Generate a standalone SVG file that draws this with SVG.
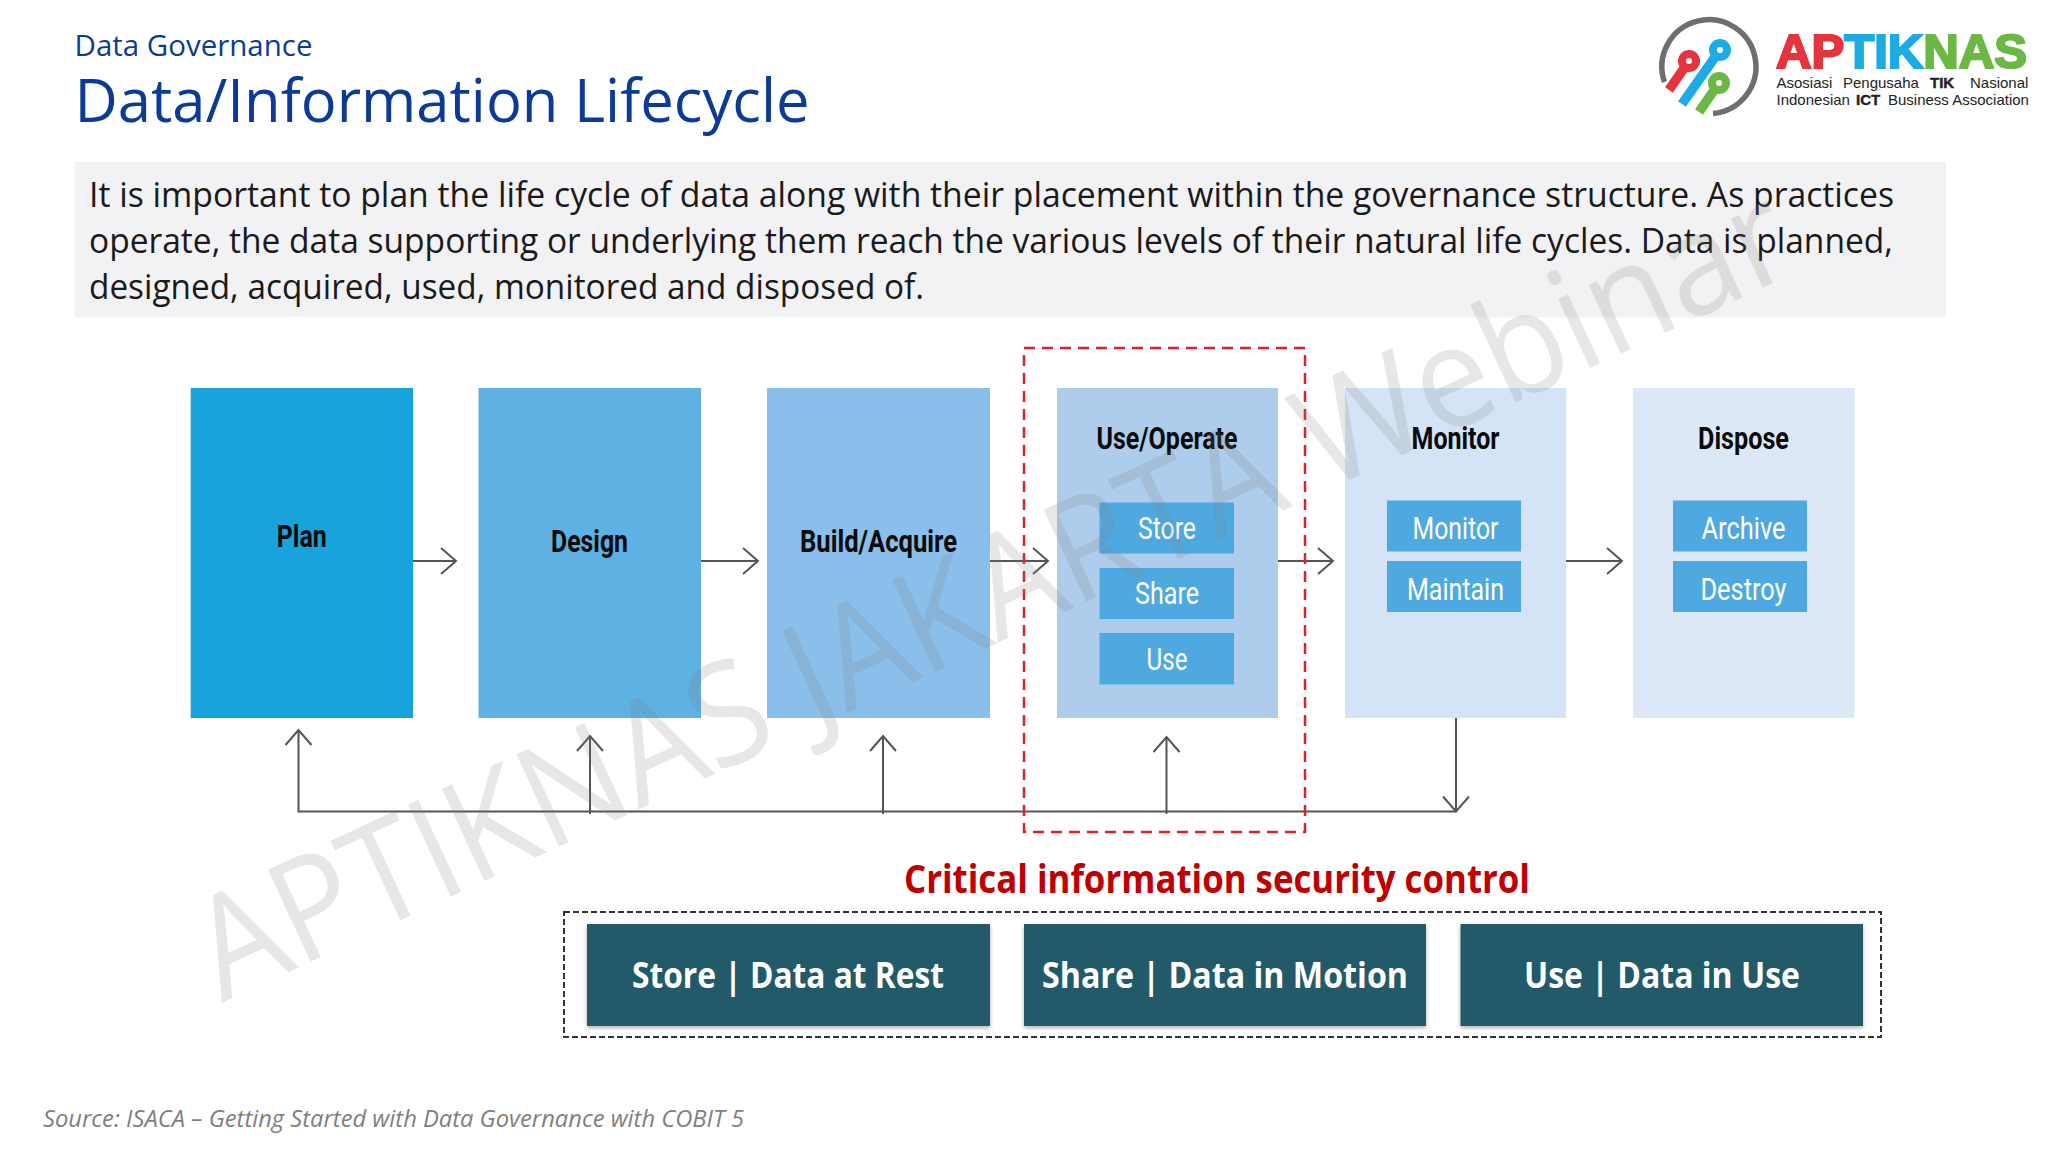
<svg xmlns="http://www.w3.org/2000/svg" width="2048" height="1152" viewBox="0 0 2048 1152">
<style>
.body{font-family:"Open Sans","Noto Sans",sans-serif;font-size:35px;fill:#1a1a1a}
.hd{font-family:Roboto,"Liberation Sans",sans-serif;font-size:31px;font-weight:700;fill:#0a0a0a;text-anchor:middle}
.sub{font-family:Roboto,"Liberation Sans",sans-serif;font-size:32px;fill:#fff;text-anchor:middle}
.sb{fill:#4fa9e1}
.teal{fill:#225a6b;filter:url(#sh)}
.tt{font-family:"Open Sans","Noto Sans",sans-serif;font-size:36px;font-weight:700;fill:#fff;text-anchor:middle}
.c{fill:none;stroke:#555;stroke-width:2}
.lg{font-family:"Liberation Sans",Arial,sans-serif;font-size:15px;fill:#222}
.lgb{font-family:"Liberation Sans",Arial,sans-serif;font-weight:700}
.pin{fill:none;stroke-width:9.5}
</style>
<defs>
<filter id="sh" x="-5%" y="-5%" width="110%" height="115%"><feDropShadow dx="0" dy="2" stdDeviation="2" flood-color="#000" flood-opacity="0.3"/></filter>
<marker id="ah" viewBox="0 0 20 30" refX="17" refY="15" markerWidth="20" markerHeight="30" markerUnits="userSpaceOnUse" orient="auto"><path d="M2 2L17 15L2 28" fill="none" stroke="#555" stroke-width="2"/></marker>
</defs>
<rect width="2048" height="1152" fill="#fff"/>

<g id="header">
<text x="74.5" y="56" font-family="Open Sans,Noto Sans,sans-serif" font-size="30" fill="#0b3b97" textLength="238" lengthAdjust="spacingAndGlyphs">Data Governance</text>
<text x="74.5" y="122" font-family="Open Sans,Noto Sans,sans-serif" font-size="60" fill="#0b3b97" textLength="735" lengthAdjust="spacingAndGlyphs">Data/Information Lifecycle</text>
</g>

<g id="logo">
<path d="M1664.5 82A47 47 0 1 1 1713 113.5" fill="none" stroke="#6d6e70" stroke-width="5.5"/>
<path class="pin" stroke="#e5343d" d="M1669 90L1689 61"/><circle cx="1689" cy="61" r="11" fill="#e5343d"/><circle cx="1689" cy="61" r="3" fill="#fff"/>
<path class="pin" stroke="#1cabe2" d="M1682 104L1720 50"/><circle cx="1720" cy="50" r="11" fill="#1cabe2"/><circle cx="1720" cy="50" r="3" fill="#fff"/>
<path class="pin" stroke="#6cb844" d="M1699 112L1719 83"/><circle cx="1719" cy="83" r="11" fill="#6cb844"/><circle cx="1719" cy="83" r="3" fill="#fff"/>
<text x="1776" y="68" class="lgb" font-size="48" stroke-width="2.2" textLength="251" lengthAdjust="spacingAndGlyphs"><tspan fill="#e5343d" stroke="#e5343d">AP</tspan><tspan fill="#1cabe2" stroke="#1cabe2">TIK</tspan><tspan fill="#6cb844" stroke="#6cb844">NAS</tspan></text>
<text y="88" class="lg"><tspan x="1776.5">Asosiasi</tspan><tspan x="1843">Pengusaha</tspan><tspan x="1930" class="lgb" stroke="#222" stroke-width=".4">TIK</tspan><tspan x="1970">Nasional</tspan></text>
<text y="105" class="lg"><tspan x="1776.5">Indonesian</tspan><tspan x="1856" class="lgb" stroke="#222" stroke-width=".4">ICT</tspan><tspan x="1888">Business Association</tspan></text>
</g>

<g id="intro">
<rect x="74.5" y="162" width="1871.5" height="155.5" fill="#f2f1f4"/>
<text class="body" x="89" y="207" textLength="1805" lengthAdjust="spacingAndGlyphs">It is important to plan the life cycle of data along with their placement within the governance structure. As practices</text>
<text class="body" x="89" y="253" textLength="1804" lengthAdjust="spacingAndGlyphs">operate, the data supporting or underlying them reach the various levels of their natural life cycles. Data is planned,</text>
<text class="body" x="89" y="299" textLength="835" lengthAdjust="spacingAndGlyphs">designed, acquired, used, monitored and disposed of.</text>
</g>

<g id="connectors">
<path class="c" marker-end="url(#ah)" d="M413 561H456"/>
<path class="c" marker-end="url(#ah)" d="M701 561H758"/>
<path class="c" marker-end="url(#ah)" d="M989 561H1048"/>
<path class="c" marker-end="url(#ah)" d="M1278 561H1333"/>
<path class="c" marker-end="url(#ah)" d="M1566 561H1622"/>
<path class="c" marker-end="url(#ah)" d="M1456 718V811.5"/>
<path class="c" marker-end="url(#ah)" d="M1456 811.5H298.5V730"/>
<path class="c" marker-end="url(#ah)" d="M590 814V736"/>
<path class="c" marker-end="url(#ah)" d="M883 814V736"/>
<path class="c" marker-end="url(#ah)" d="M1166.5 814V737"/>
</g>

<g id="plan"><rect x="190.7" y="388" width="222.3" height="330" fill="#19a3dd"/><text class="hd" x="301.8" y="547" textLength="50" lengthAdjust="spacingAndGlyphs">Plan</text></g>
<g id="design"><rect x="478.5" y="388" width="222.5" height="330" fill="#5db1e3"/><text class="hd" x="589.5" y="552" textLength="77" lengthAdjust="spacingAndGlyphs">Design</text></g>
<g id="build"><rect x="767" y="388" width="223" height="330" fill="#8abeeb"/><text class="hd" x="878.5" y="552" textLength="157" lengthAdjust="spacingAndGlyphs">Build/Acquire</text></g>
<g id="use-operate"><rect x="1057" y="388" width="221" height="330" fill="#aecdec"/><text class="hd" x="1167" y="449" textLength="141" lengthAdjust="spacingAndGlyphs">Use/Operate</text>
<rect class="sb" x="1099.5" y="502.5" width="134.5" height="51"/><text class="sub" x="1167" y="539" textLength="58" lengthAdjust="spacingAndGlyphs">Store</text>
<rect class="sb" x="1099.5" y="568" width="134.5" height="51"/><text class="sub" x="1167" y="604" textLength="64" lengthAdjust="spacingAndGlyphs">Share</text>
<rect class="sb" x="1099.5" y="633" width="134.5" height="51.5"/><text class="sub" x="1167" y="670" textLength="41" lengthAdjust="spacingAndGlyphs">Use</text></g>
<g id="monitor"><rect x="1345" y="388" width="221" height="330" fill="#d4e4f6"/><text class="hd" x="1455.5" y="449" textLength="88" lengthAdjust="spacingAndGlyphs">Monitor</text>
<rect class="sb" x="1387" y="500.5" width="134" height="51"/><text class="sub" x="1455.5" y="539" textLength="86" lengthAdjust="spacingAndGlyphs">Monitor</text>
<rect class="sb" x="1387" y="561" width="134" height="51"/><text class="sub" x="1455.5" y="600" textLength="97" lengthAdjust="spacingAndGlyphs">Maintain</text></g>
<g id="dispose"><rect x="1633" y="388" width="221.5" height="330" fill="#dde8f7"/><text class="hd" x="1743.5" y="449" textLength="91" lengthAdjust="spacingAndGlyphs">Dispose</text>
<rect class="sb" x="1673" y="500.5" width="134" height="51"/><text class="sub" x="1743.5" y="539" textLength="84" lengthAdjust="spacingAndGlyphs">Archive</text>
<rect class="sb" x="1673" y="561" width="134" height="51"/><text class="sub" x="1743.5" y="600" textLength="86" lengthAdjust="spacingAndGlyphs">Destroy</text></g>

<g id="critical-frame"><rect x="1024" y="348" width="281" height="484" fill="none" stroke="#e01f2b" stroke-width="2.5" stroke-dasharray="11 7"/></g>

<g id="controls">
<text x="904" y="893" font-family="Open Sans,Noto Sans,sans-serif" font-size="39" font-weight="700" fill="#c00000" textLength="626" lengthAdjust="spacingAndGlyphs">Critical information security control</text>
<rect x="564" y="912" width="1317" height="125" fill="none" stroke="#333" stroke-width="2" stroke-dasharray="6 3"/>
<g id="store"><rect class="teal" x="587" y="924" width="403" height="102"/><text class="tt" x="788" y="988" textLength="312" lengthAdjust="spacingAndGlyphs">Store | Data at Rest</text></g>
<g id="share"><rect class="teal" x="1024" y="924" width="402" height="102"/><text class="tt" x="1225" y="988" textLength="366" lengthAdjust="spacingAndGlyphs">Share | Data in Motion</text></g>
<g id="use"><rect class="teal" x="1460.5" y="924" width="402.5" height="102"/><text class="tt" x="1662" y="988" textLength="276" lengthAdjust="spacingAndGlyphs">Use | Data in Use</text></g>
</g>

<text id="source" x="43" y="1127" font-family="Open Sans,Noto Sans,sans-serif" font-size="24" font-style="italic" fill="#7f7f7f" textLength="701" lengthAdjust="spacingAndGlyphs">Source: ISACA – Getting Started with Data Governance with COBIT 5</text>

<text id="watermark" transform="translate(222 1003) rotate(-24.9)" font-family="Open Sans,Noto Sans,sans-serif" font-size="142" fill="#808080" fill-opacity=".19" textLength="1742" lengthAdjust="spacingAndGlyphs">APTIKNAS JAKARTA Webinar</text>
</svg>
